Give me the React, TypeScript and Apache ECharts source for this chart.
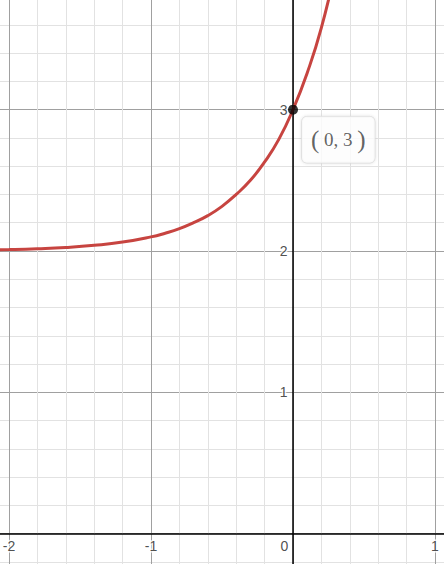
import React, { useEffect, useRef } from "react";
import * as echarts from "echarts";

const curveX = [-2.2, -2.0, -1.8, -1.6, -1.4, -1.2, -1.0, -0.9, -0.8, -0.7, -0.6, -0.5, -0.4, -0.3, -0.2, -0.1, 0, 0.1, 0.2, 0.3];
const curveY = [2.006, 2.01, 2.016, 2.025, 2.04, 2.063, 2.1, 2.126, 2.158, 2.2, 2.25, 2.316, 2.4, 2.5, 2.63, 2.79, 3.0, 3.26, 3.58, 4.0];
const pointXY = [0, 3];
const pointLabel = "0, 3";
const xTickLabels = [-2, -1, 0, 1];
const yTickLabels = [1, 2, 3];

export default function App() {
  const ref = useRef<HTMLDivElement>(null);
  useEffect(() => {
    if (!ref.current) return;
    const chart = echarts.init(ref.current, null, { renderer: "svg" });
    const labelFont = "'Liberation Sans', Arial, sans-serif";
    const tickLabelStyle = {
      show: true,
      fontFamily: labelFont,
      fontSize: 14,
      color: "#222",
      textBorderColor: "#fff",
      textBorderWidth: 3,
      distance: 5,
    };
    chart.setOption({
      animation: false,
      backgroundColor: "#ffffff",
      grid: { left: 0, right: 0, top: 0, bottom: 0, containLabel: false, outerBoundsMode: "none" },
      xAxis: {
        type: "value",
        min: -3,
        max: 2,
        interval: 1,
        axisLine: { show: true, onZero: true, lineStyle: { color: "#000", width: 1.5 } },
        axisTick: { show: false },
        axisLabel: { show: false },
        splitLine: { show: true, lineStyle: { color: "#a0a0a0", width: 1 } },
        minorTick: { show: false, splitNumber: 5 },
        minorSplitLine: { show: true, lineStyle: { color: "#e2e2e2", width: 1 } },
      },
      yAxis: {
        type: "value",
        min: -1,
        max: 5,
        interval: 1,
        axisLine: { show: true, onZero: true, lineStyle: { color: "#000", width: 1.5 } },
        axisTick: { show: false },
        axisLabel: { show: false },
        splitLine: { show: true, lineStyle: { color: "#a0a0a0", width: 1 } },
        minorTick: { show: false, splitNumber: 5 },
        minorSplitLine: { show: true, lineStyle: { color: "#e2e2e2", width: 1 } },
      },
      series: [
        {
          type: "line",
          data: curveX.map((x, i) => [x, curveY[i]]),
          smooth: 0.5,
          symbol: "none",
          lineStyle: { color: "#c74440", width: 3 },
          z: 3,
        },
        {
          type: "scatter",
          silent: true,
          symbolSize: 1,
          itemStyle: { color: "rgba(0,0,0,0)" },
          z: 5,
          data: xTickLabels.map((v) => ({
            value: [v, 0],
            label: v === 0 ? { offset: [-8.5, 0] } : {},
          })),
          label: {
            ...tickLabelStyle,
            position: "bottom",
            formatter: (p: any) => String(p.value[0]),
          },
        },
        {
          type: "scatter",
          silent: true,
          symbolSize: 1,
          itemStyle: { color: "rgba(0,0,0,0)" },
          z: 5,
          data: yTickLabels.map((v) => [0, v]),
          label: {
            ...tickLabelStyle,
            position: "left",
            formatter: (p: any) => String(p.value[1]),
          },
        },
        {
          type: "scatter",
          data: [pointXY],
          symbol: "circle",
          symbolSize: 10,
          itemStyle: { color: "#000" },
          z: 6,
          label: {
            show: true,
            position: [14, 12],
            formatter: "{p|(}{t| " + pointLabel + " }{p|)}",
            backgroundColor: "#fff",
            borderColor: "#dcdcdc",
            borderWidth: 1,
            borderRadius: 5,
            padding: [9, 9, 9, 9],
            shadowColor: "rgba(0,0,0,0.12)",
            shadowBlur: 3,
            rich: {
              p: { fontFamily: "'Liberation Serif', 'Times New Roman', serif", fontSize: 25, color: "#3a3a3a", lineHeight: 28 },
              t: { fontFamily: "'Liberation Serif', 'Times New Roman', serif", fontSize: 19, color: "#3a3a3a", lineHeight: 28 },
            },
          },
        },
      ],
    });
    return () => chart.dispose();
  }, []);
  return (
    <div style={{ position: "fixed", left: 0, top: 0, width: 444, height: 564, overflow: "hidden", background: "#fff" }}>
      <div
        ref={ref}
        style={{ position: "absolute", left: -133.5, top: -173.5, width: 710, height: 848 }}
      />
    </div>
  );
}
